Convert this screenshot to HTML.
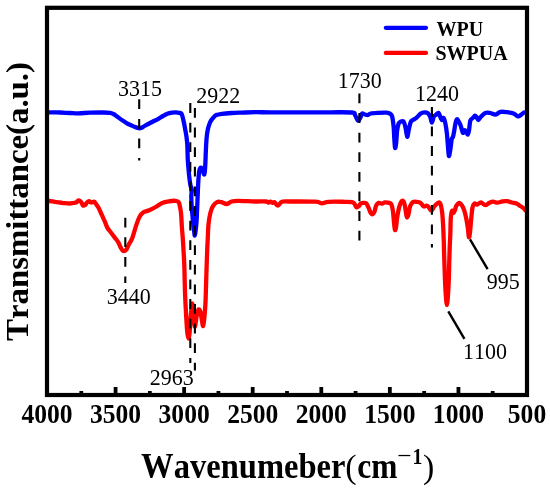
<!DOCTYPE html>
<html><head><meta charset="utf-8"><style>
html,body{margin:0;padding:0;background:#fff;}
svg{display:block;font-kerning:none;}
text{font-family:"Liberation Serif","Times New Roman",serif;fill:#000;}
</style></head><body>
<svg width="550" height="490" viewBox="0 0 550 490">
<rect width="550" height="490" fill="#fff"/>

<g stroke="#000" stroke-width="2.4" fill="none">
<line x1="470" y1="239.4" x2="487.6" y2="269.2"/>
<line x1="448.3" y1="311.3" x2="464.4" y2="338.9"/>
</g>
<path d="M49.00,112.30 C50.00,112.32 53.17,112.37 55.00,112.40 C56.83,112.43 57.50,112.40 60.00,112.50 C62.50,112.60 66.92,112.87 70.00,113.00 C73.08,113.13 75.17,113.35 78.50,113.30 C81.83,113.25 85.92,112.83 90.00,112.70 C94.08,112.57 99.67,112.47 103.00,112.50 C106.33,112.53 108.27,112.65 110.00,112.90 C111.73,113.15 112.33,113.48 113.40,114.00 C114.47,114.52 114.85,114.90 116.40,116.00 C117.95,117.10 120.93,119.38 122.70,120.60 C124.47,121.82 125.62,122.53 127.00,123.30 C128.38,124.07 129.75,124.62 131.00,125.20 C132.25,125.78 133.42,126.35 134.50,126.80 C135.58,127.25 136.67,127.65 137.50,127.90 C138.33,128.15 138.83,128.32 139.50,128.30 C140.17,128.28 140.67,128.18 141.50,127.80 C142.33,127.42 143.38,126.63 144.50,126.00 C145.62,125.37 146.78,124.75 148.20,124.00 C149.62,123.25 151.30,122.37 153.00,121.50 C154.70,120.63 156.73,119.72 158.40,118.80 C160.07,117.88 161.52,116.83 163.00,116.00 C164.48,115.17 165.80,114.37 167.30,113.80 C168.80,113.23 170.52,112.85 172.00,112.60 C173.48,112.35 174.95,112.25 176.20,112.30 C177.45,112.35 178.65,112.70 179.50,112.90 C180.35,113.10 180.80,112.90 181.30,113.50 C181.80,114.10 182.05,114.92 182.50,116.50 C182.95,118.08 183.53,120.75 184.00,123.00 C184.47,125.25 184.88,127.67 185.30,130.00 C185.72,132.33 186.17,134.50 186.50,137.00 C186.83,139.50 187.08,141.17 187.30,145.00 C187.52,148.83 187.58,155.83 187.80,160.00 C188.02,164.17 188.35,167.17 188.60,170.00 C188.85,172.83 188.98,174.42 189.30,177.00 C189.62,179.58 190.08,183.42 190.50,185.50 C190.92,187.58 191.67,187.75 191.80,189.50 C191.93,191.25 191.33,193.42 191.30,196.00 C191.27,198.58 191.42,201.83 191.60,205.00 C191.78,208.17 192.12,211.67 192.40,215.00 C192.68,218.33 193.00,222.17 193.30,225.00 C193.60,227.83 193.95,230.25 194.20,232.00 C194.45,233.75 194.57,235.67 194.80,235.50 C195.03,235.33 195.32,233.25 195.60,231.00 C195.88,228.75 196.27,225.17 196.50,222.00 C196.73,218.83 196.83,215.67 197.00,212.00 C197.17,208.33 197.33,204.00 197.50,200.00 C197.67,196.00 197.85,191.33 198.00,188.00 C198.15,184.67 198.22,182.67 198.40,180.00 C198.58,177.33 198.83,173.92 199.10,172.00 C199.37,170.08 199.62,169.20 200.00,168.50 C200.38,167.80 200.93,167.47 201.40,167.80 C201.87,168.13 202.32,169.38 202.80,170.50 C203.28,171.62 203.92,174.92 204.30,174.50 C204.68,174.08 204.90,170.42 205.10,168.00 C205.30,165.58 205.37,163.00 205.50,160.00 C205.63,157.00 205.72,153.67 205.90,150.00 C206.08,146.33 206.28,141.42 206.60,138.00 C206.92,134.58 207.30,131.92 207.80,129.50 C208.30,127.08 209.00,125.08 209.60,123.50 C210.20,121.92 210.75,121.02 211.40,120.00 C212.05,118.98 212.70,118.22 213.50,117.40 C214.30,116.58 214.80,115.70 216.20,115.10 C217.60,114.50 219.32,114.15 221.90,113.80 C224.48,113.45 228.35,113.20 231.70,113.00 C235.05,112.80 238.12,112.73 242.00,112.60 C245.88,112.47 250.33,112.25 255.00,112.20 C259.67,112.15 262.50,112.28 270.00,112.30 C277.50,112.32 290.00,112.30 300.00,112.30 C310.00,112.30 321.33,112.27 330.00,112.30 C338.67,112.33 347.83,112.05 352.00,112.50 C356.17,112.95 354.02,113.63 355.00,115.00 C355.98,116.37 357.03,120.22 357.90,120.70 C358.77,121.18 359.50,119.08 360.20,117.90 C360.90,116.72 361.30,114.17 362.10,113.60 C362.90,113.03 364.03,114.27 365.00,114.50 C365.97,114.73 366.95,115.17 367.90,115.00 C368.85,114.83 369.03,113.87 370.70,113.50 C372.37,113.13 375.28,112.95 377.90,112.80 C380.52,112.65 384.38,112.47 386.40,112.60 C388.42,112.73 389.05,112.97 390.00,113.60 C390.95,114.23 391.50,114.27 392.10,116.40 C392.70,118.53 393.23,122.72 393.60,126.40 C393.97,130.08 394.05,134.90 394.30,138.50 C394.55,142.10 394.78,147.33 395.10,148.00 C395.42,148.67 395.87,145.38 396.20,142.50 C396.53,139.62 396.70,133.85 397.10,130.70 C397.50,127.55 398.00,125.12 398.60,123.60 C399.20,122.08 399.87,121.93 400.70,121.60 C401.53,121.27 402.82,120.70 403.60,121.60 C404.38,122.50 404.80,124.48 405.40,127.00 C406.00,129.52 406.63,136.28 407.20,136.70 C407.77,137.12 408.22,131.93 408.80,129.50 C409.38,127.07 410.02,123.68 410.70,122.10 C411.38,120.52 411.95,120.70 412.90,120.00 C413.85,119.30 415.10,118.97 416.40,117.90 C417.70,116.83 419.38,114.52 420.70,113.60 C422.02,112.68 423.10,112.45 424.30,112.40 C425.50,112.35 426.92,112.57 427.90,113.30 C428.88,114.03 429.53,115.25 430.20,116.80 C430.87,118.35 431.30,122.63 431.90,122.60 C432.50,122.57 433.17,117.87 433.80,116.60 C434.43,115.33 434.90,115.62 435.70,115.00 C436.50,114.38 437.77,112.42 438.60,112.90 C439.43,113.38 440.12,116.72 440.70,117.90 C441.28,119.08 441.62,120.00 442.10,120.00 C442.58,120.00 443.05,117.30 443.60,117.90 C444.15,118.50 444.85,120.98 445.40,123.60 C445.95,126.22 446.48,129.95 446.90,133.60 C447.32,137.25 447.57,141.77 447.90,145.50 C448.23,149.23 448.50,155.28 448.90,156.00 C449.30,156.72 449.83,152.58 450.30,149.80 C450.77,147.02 451.27,141.42 451.70,139.30 C452.13,137.18 452.52,138.30 452.90,137.10 C453.28,135.90 453.58,134.35 454.00,132.10 C454.42,129.85 454.92,125.73 455.40,123.60 C455.88,121.47 456.37,119.67 456.90,119.30 C457.43,118.93 457.97,120.33 458.60,121.40 C459.23,122.47 459.98,123.80 460.70,125.70 C461.42,127.60 462.23,132.05 462.90,132.80 C463.57,133.55 464.18,130.42 464.70,130.20 C465.22,129.98 465.52,130.77 466.00,131.50 C466.48,132.23 467.10,134.77 467.60,134.60 C468.10,134.43 468.55,132.82 469.00,130.50 C469.45,128.18 469.65,122.80 470.30,120.70 C470.95,118.60 472.13,118.73 472.90,117.90 C473.67,117.07 474.30,115.85 474.90,115.70 C475.50,115.55 475.95,116.28 476.50,117.00 C477.05,117.72 477.47,120.03 478.20,120.00 C478.93,119.97 479.72,117.97 480.90,116.80 C482.08,115.63 483.75,113.63 485.30,113.00 C486.85,112.37 488.48,112.73 490.20,113.00 C491.92,113.27 493.88,114.78 495.60,114.60 C497.32,114.42 498.58,112.30 500.50,111.90 C502.42,111.50 504.92,111.93 507.10,112.20 C509.28,112.47 511.78,112.82 513.60,113.50 C515.42,114.18 516.72,116.12 518.00,116.30 C519.28,116.48 520.30,115.23 521.30,114.60 C522.30,113.97 523.55,112.85 524.00,112.50" fill="none" stroke="#0000ff" stroke-width="4.3" stroke-linejoin="round" stroke-linecap="round"/>
<path d="M49.00,201.00 C50.00,201.13 53.17,201.55 55.00,201.80 C56.83,202.05 58.33,202.27 60.00,202.50 C61.67,202.73 63.33,203.03 65.00,203.20 C66.67,203.37 68.67,203.53 70.00,203.50 C71.33,203.47 72.00,203.17 73.00,203.00 C74.00,202.83 75.33,202.70 76.00,202.50 C76.67,202.30 76.67,202.13 77.00,201.80 C77.33,201.47 77.50,200.63 78.00,200.50 C78.50,200.37 79.33,200.50 80.00,201.00 C80.67,201.50 81.50,202.75 82.00,203.50 C82.50,204.25 82.50,205.25 83.00,205.50 C83.50,205.75 84.33,205.50 85.00,205.00 C85.67,204.50 86.33,203.13 87.00,202.50 C87.67,201.87 88.33,201.20 89.00,201.20 C89.67,201.20 90.33,202.37 91.00,202.50 C91.67,202.63 92.42,202.12 93.00,202.00 C93.58,201.88 94.00,201.47 94.50,201.80 C95.00,202.13 95.30,202.97 96.00,204.00 C96.70,205.03 97.75,206.22 98.70,208.00 C99.65,209.78 100.68,212.47 101.70,214.70 C102.72,216.93 103.87,219.25 104.80,221.40 C105.73,223.55 106.28,225.75 107.30,227.60 C108.32,229.45 109.68,230.87 110.90,232.50 C112.12,234.13 113.37,235.77 114.60,237.40 C115.83,239.03 117.28,240.60 118.30,242.30 C119.32,244.00 119.88,246.15 120.70,247.60 C121.52,249.05 122.27,250.65 123.20,251.00 C124.13,251.35 125.38,250.75 126.30,249.70 C127.22,248.65 127.78,246.45 128.70,244.70 C129.62,242.95 130.88,241.33 131.80,239.20 C132.72,237.07 133.38,234.45 134.20,231.90 C135.02,229.35 135.78,226.47 136.70,223.90 C137.62,221.33 138.58,218.43 139.70,216.50 C140.82,214.57 141.82,213.33 143.40,212.30 C144.98,211.27 147.15,211.18 149.20,210.30 C151.25,209.42 153.53,208.22 155.70,207.00 C157.87,205.78 160.02,203.95 162.20,203.00 C164.38,202.05 166.62,201.67 168.80,201.30 C170.98,200.93 173.67,200.67 175.30,200.80 C176.93,200.93 177.78,200.92 178.60,202.10 C179.42,203.28 179.77,205.75 180.20,207.90 C180.63,210.05 180.93,212.02 181.20,215.00 C181.47,217.98 181.52,221.63 181.80,225.80 C182.08,229.97 182.62,235.97 182.90,240.00 C183.18,244.03 183.27,245.83 183.50,250.00 C183.73,254.17 184.03,257.50 184.30,265.00 C184.57,272.50 184.70,285.00 185.10,295.00 C185.50,305.00 186.30,318.50 186.70,325.00 C187.10,331.50 187.20,331.75 187.50,334.00 C187.80,336.25 188.17,338.50 188.50,338.50 C188.83,338.50 189.17,337.08 189.50,334.00 C189.83,330.92 190.17,324.33 190.50,320.00 C190.83,315.67 191.20,310.75 191.50,308.00 C191.80,305.25 192.02,303.50 192.30,303.50 C192.58,303.50 192.92,305.58 193.20,308.00 C193.48,310.42 193.73,314.92 194.00,318.00 C194.27,321.08 194.50,325.83 194.80,326.50 C195.10,327.17 195.43,324.08 195.80,322.00 C196.17,319.92 196.60,316.00 197.00,314.00 C197.40,312.00 197.80,310.75 198.20,310.00 C198.60,309.25 199.02,309.17 199.40,309.50 C199.78,309.83 200.15,310.58 200.50,312.00 C200.85,313.42 201.17,316.00 201.50,318.00 C201.83,320.00 202.23,322.67 202.50,324.00 C202.77,325.33 202.85,326.50 203.10,326.00 C203.35,325.50 203.68,323.67 204.00,321.00 C204.32,318.33 204.73,313.50 205.00,310.00 C205.27,306.50 205.35,306.67 205.60,300.00 C205.85,293.33 206.23,278.33 206.50,270.00 C206.77,261.67 207.00,255.00 207.20,250.00 C207.40,245.00 207.48,244.30 207.70,240.00 C207.92,235.70 208.07,228.67 208.50,224.20 C208.93,219.73 209.58,216.17 210.30,213.20 C211.02,210.23 211.68,208.25 212.80,206.40 C213.92,204.55 215.58,202.82 217.00,202.10 C218.42,201.38 219.67,201.78 221.30,202.10 C222.93,202.42 225.07,204.10 226.80,204.00 C228.53,203.90 229.85,202.02 231.70,201.50 C233.55,200.98 234.02,200.90 237.90,200.90 C241.78,200.90 250.32,201.40 255.00,201.50 C259.68,201.60 263.70,201.32 266.00,201.50 C268.30,201.68 268.05,202.58 268.80,202.60 C269.55,202.62 269.88,201.57 270.50,201.60 C271.12,201.63 271.83,202.70 272.50,202.80 C273.17,202.90 273.60,201.72 274.50,202.20 C275.40,202.68 276.67,205.77 277.90,205.70 C279.13,205.63 279.88,202.50 281.90,201.80 C283.92,201.10 284.40,201.52 290.00,201.50 C295.60,201.48 310.17,201.40 315.50,201.70 C320.83,202.00 319.82,203.28 322.00,203.30 C324.18,203.32 324.77,202.05 328.60,201.80 C332.43,201.55 341.08,201.75 345.00,201.80 C348.92,201.85 350.55,201.80 352.10,202.10 C353.65,202.40 353.58,202.77 354.30,203.60 C355.02,204.43 355.68,206.63 356.40,207.10 C357.12,207.57 357.88,206.98 358.60,206.40 C359.32,205.82 359.87,204.18 360.70,203.60 C361.53,203.02 362.65,202.90 363.60,202.90 C364.55,202.90 365.57,202.77 366.40,203.60 C367.23,204.43 367.88,206.35 368.60,207.90 C369.32,209.45 370.07,211.83 370.70,212.90 C371.33,213.97 371.80,214.43 372.40,214.30 C373.00,214.17 373.68,213.53 374.30,212.10 C374.92,210.67 375.38,207.23 376.10,205.70 C376.82,204.17 377.60,203.25 378.60,202.90 C379.60,202.55 381.03,203.68 382.10,203.60 C383.17,203.52 383.80,202.52 385.00,202.40 C386.20,202.28 388.23,202.58 389.30,202.90 C390.37,203.22 390.80,203.00 391.40,204.30 C392.00,205.60 392.47,207.67 392.90,210.70 C393.33,213.73 393.65,219.28 394.00,222.50 C394.35,225.72 394.65,229.28 395.00,230.00 C395.35,230.72 395.75,228.82 396.10,226.80 C396.45,224.78 396.62,221.05 397.10,217.90 C397.58,214.75 398.28,210.65 399.00,207.90 C399.72,205.15 400.63,202.48 401.40,201.40 C402.17,200.32 403.00,200.57 403.60,201.40 C404.20,202.23 404.58,204.38 405.00,206.40 C405.42,208.42 405.75,211.65 406.10,213.50 C406.45,215.35 406.68,217.42 407.10,217.50 C407.52,217.58 408.12,215.85 408.60,214.00 C409.08,212.15 409.28,208.38 410.00,206.40 C410.72,204.42 411.72,202.85 412.90,202.10 C414.08,201.35 415.80,201.77 417.10,201.90 C418.40,202.03 419.62,202.15 420.70,202.90 C421.78,203.65 422.65,205.93 423.60,206.40 C424.55,206.87 425.57,205.58 426.40,205.70 C427.23,205.82 427.77,206.27 428.60,207.10 C429.43,207.93 430.45,210.82 431.40,210.70 C432.35,210.58 433.22,207.70 434.30,206.40 C435.38,205.10 436.90,203.37 437.90,202.90 C438.90,202.43 439.60,202.07 440.30,203.60 C441.00,205.13 441.63,208.53 442.10,212.10 C442.57,215.67 442.82,220.02 443.10,225.00 C443.38,229.98 443.60,236.17 443.80,242.00 C444.00,247.83 444.10,253.67 444.30,260.00 C444.50,266.33 444.75,274.17 445.00,280.00 C445.25,285.83 445.48,290.83 445.80,295.00 C446.12,299.17 446.53,305.00 446.90,305.00 C447.27,305.00 447.68,299.17 448.00,295.00 C448.32,290.83 448.58,285.83 448.80,280.00 C449.02,274.17 449.13,265.83 449.30,260.00 C449.47,254.17 449.63,249.17 449.80,245.00 C449.97,240.83 450.13,239.50 450.30,235.00 C450.47,230.50 450.50,222.05 450.80,218.00 C451.10,213.95 451.63,211.55 452.10,210.70 C452.57,209.85 453.12,213.02 453.60,212.90 C454.08,212.78 454.53,211.20 455.00,210.00 C455.47,208.80 455.68,206.88 456.40,205.70 C457.12,204.52 458.35,202.90 459.30,202.90 C460.25,202.90 461.27,204.40 462.10,205.70 C462.93,207.00 463.58,208.43 464.30,210.70 C465.02,212.97 465.80,216.33 466.40,219.30 C467.00,222.27 467.48,225.50 467.90,228.50 C468.32,231.50 468.55,236.62 468.90,237.30 C469.25,237.98 469.63,235.48 470.00,232.60 C470.37,229.72 470.68,224.18 471.10,220.00 C471.52,215.82 471.95,210.25 472.50,207.50 C473.05,204.75 473.63,203.98 474.40,203.50 C475.17,203.02 476.02,204.77 477.10,204.60 C478.18,204.43 479.53,202.40 480.90,202.50 C482.27,202.60 483.95,205.12 485.30,205.20 C486.65,205.28 487.70,203.60 489.00,203.00 C490.30,202.40 491.68,201.65 493.10,201.60 C494.52,201.55 495.95,202.73 497.50,202.70 C499.05,202.67 500.80,201.67 502.40,201.40 C504.00,201.13 505.50,200.92 507.10,201.10 C508.70,201.28 510.45,202.10 512.00,202.50 C513.55,202.90 514.95,202.87 516.40,203.50 C517.85,204.13 519.43,205.47 520.70,206.30 C521.97,207.13 523.20,207.83 524.00,208.50 C524.80,209.17 525.25,210.00 525.50,210.30" fill="none" stroke="#ff0000" stroke-width="4.3" stroke-linejoin="round" stroke-linecap="round"/>
<g stroke="#000" stroke-width="2.1" stroke-dasharray="9.8 9.8" fill="none">
<line x1="139.2" y1="99.3" x2="139.2" y2="160.5" />
<line x1="125.3" y1="217.7" x2="125.3" y2="283" />
<line x1="190.3" y1="103.1" x2="190.3" y2="363" />
<line x1="194.9" y1="108" x2="194.9" y2="370.5" />
<line x1="359.4" y1="93.5" x2="359.4" y2="241" />
<line x1="431.9" y1="106.9" x2="431.9" y2="247.5" />
</g>
<rect x="47" y="7.8" width="480" height="387.2" fill="none" stroke="#000" stroke-width="4.2"/>
<g stroke="#000" stroke-width="3.8">
<line x1="81.29" y1="393" x2="81.29" y2="391" />
<line x1="115.57" y1="393" x2="115.57" y2="387" />
<line x1="149.86" y1="393" x2="149.86" y2="391" />
<line x1="184.14" y1="393" x2="184.14" y2="387" />
<line x1="218.43" y1="393" x2="218.43" y2="391" />
<line x1="252.71" y1="393" x2="252.71" y2="387" />
<line x1="287.00" y1="393" x2="287.00" y2="391" />
<line x1="321.29" y1="393" x2="321.29" y2="387" />
<line x1="355.57" y1="393" x2="355.57" y2="391" />
<line x1="389.86" y1="393" x2="389.86" y2="387" />
<line x1="424.14" y1="393" x2="424.14" y2="391" />
<line x1="458.43" y1="393" x2="458.43" y2="387" />
<line x1="492.71" y1="393" x2="492.71" y2="391" />
</g>
<g font-size="26.5" font-weight="bold">
<text transform="translate(47.00,423.4) scale(0.965,1)" text-anchor="middle">4000</text>
<text transform="translate(115.57,423.4) scale(0.965,1)" text-anchor="middle">3500</text>
<text transform="translate(184.14,423.4) scale(0.965,1)" text-anchor="middle">3000</text>
<text transform="translate(252.71,423.4) scale(0.965,1)" text-anchor="middle">2500</text>
<text transform="translate(321.29,423.4) scale(0.965,1)" text-anchor="middle">2000</text>
<text transform="translate(389.86,423.4) scale(0.965,1)" text-anchor="middle">1500</text>
<text transform="translate(458.43,423.4) scale(0.965,1)" text-anchor="middle">1000</text>
<text transform="translate(527.00,423.4) scale(0.965,1)" text-anchor="middle">500</text>
</g>
<text transform="translate(27.5,341) rotate(-90) scale(1.0106,1)" font-size="32.5" font-weight="bold">Transmittance(a.u.)</text>
<g transform="translate(141.1,477.6) scale(0.958,1.04)"><text font-size="34" font-weight="bold">Wavenumeber</text></g>
<text x="345.2" y="477.5" font-size="34">(</text>
<g transform="translate(357.3,477.6) scale(0.925,1.04)"><text font-size="34" font-weight="bold">cm</text></g>
<text x="397.3" y="464.2" font-size="25.5">&#8722;</text>
<g transform="translate(412.6,464) scale(0.88,1)"><text font-size="22.5" font-weight="bold">1</text></g>
<text x="423.1" y="477.5" font-size="34">)</text>
<g font-size="22">
<text transform="translate(117.9,95.5) scale(1,1.065)">3315</text>
<text transform="translate(196.2,103.3) scale(1,1.065)">2922</text>
<text transform="translate(337.8,88.3) scale(1,1.065)">1730</text>
<text transform="translate(415,101) scale(1,1.065)">1240</text>
<text transform="translate(106.8,304) scale(1,1.065)">3440</text>
<text transform="translate(149.8,384.5) scale(1,1.065)">2963</text>
<text transform="translate(486.8,288.5) scale(1,1.065)">995</text>
<text transform="translate(463,358.7) scale(1,1.065)">1100</text>
</g>
<line x1="385.8" y1="27.8" x2="426" y2="27.8" stroke="#0000ff" stroke-width="4.2" stroke-linecap="round"/>
<line x1="385.8" y1="52.9" x2="426" y2="52.9" stroke="#ff0000" stroke-width="4.2" stroke-linecap="round"/>
<g font-size="20" font-weight="bold">
<text x="436.5" y="35.5">WPU</text>
<text x="435.5" y="60.1">SWPUA</text>
</g>
</svg>
</body></html>
